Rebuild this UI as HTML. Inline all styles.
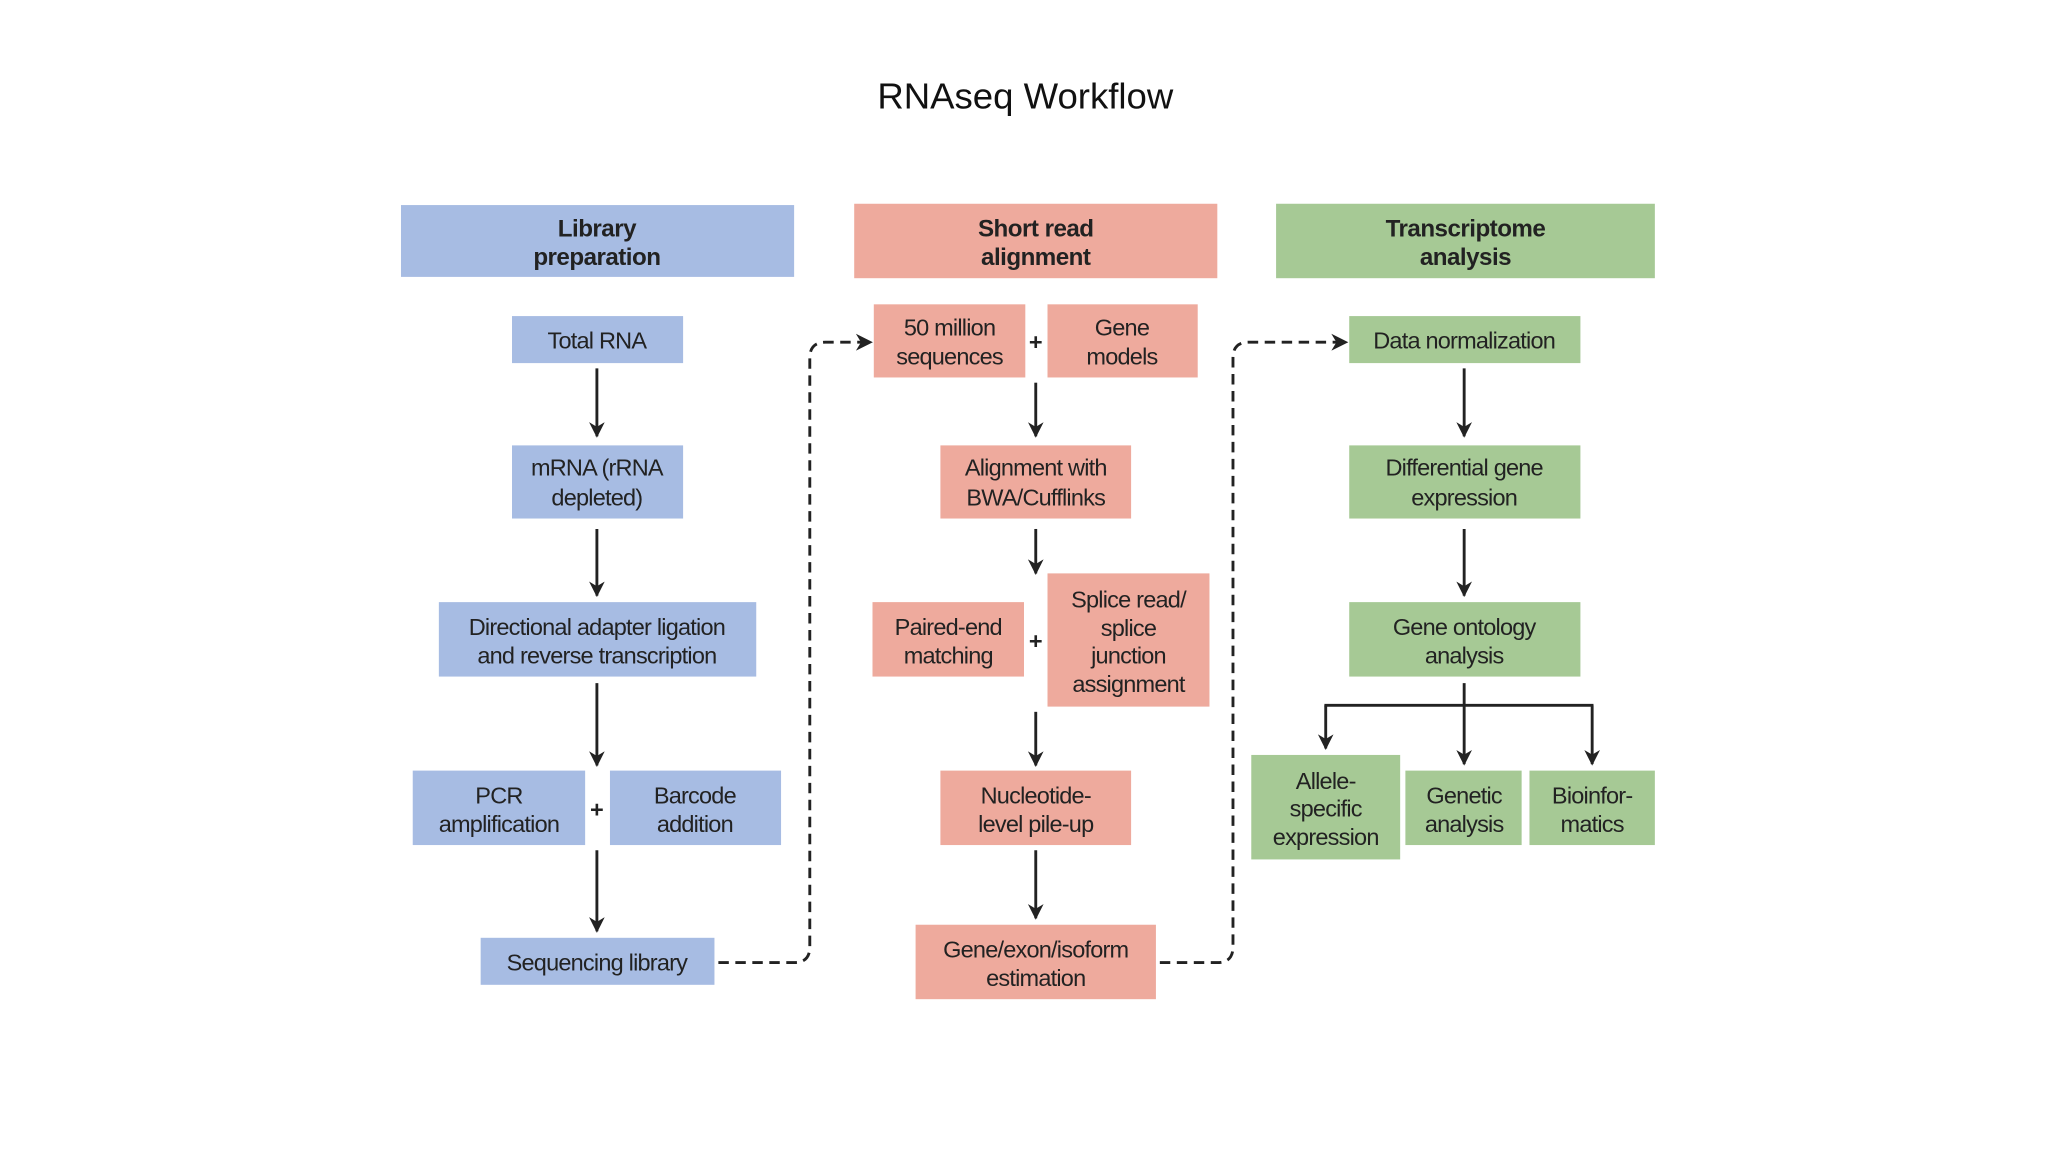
<!DOCTYPE html>
<html><head><meta charset="utf-8"><style>
html,body{margin:0;padding:0;background:#fff;}
svg{display:block;}
text{font-family:"Liberation Sans",sans-serif;fill:#222;}
.t{font-size:18px;letter-spacing:-0.6px;text-anchor:middle;}
.h{font-size:18.5px;font-weight:bold;letter-spacing:-0.4px;text-anchor:middle;}
</style></head><body>
<svg width="2048" height="1152" viewBox="0 0 1568 882" xmlns="http://www.w3.org/2000/svg">
<defs>
<marker id="a" viewBox="0 0 10 10" refX="9" refY="5" markerWidth="15" markerHeight="12" markerUnits="userSpaceOnUse" orient="auto">
<path d="M0,0 L10,5 L0,10 L3,5 z" fill="#222"/></marker>
<marker id="b" viewBox="0 0 10 10" refX="9" refY="5" markerWidth="20" markerHeight="13" markerUnits="userSpaceOnUse" orient="auto">
<path d="M0,0 L10,5 L0,10 L3,5 z" fill="#222"/></marker>
</defs>
<text x="785" y="83" style="font-size:28px;text-anchor:middle;fill:#111">RNAseq Workflow</text>

<rect x="307" y="157" width="301" height="55" fill="#a7bce3"/>
<text class="h" x="457" y="181">Library</text><text class="h" x="457" y="203">preparation</text>
<rect x="654" y="156" width="278" height="57" fill="#eeaa9d"/>
<text class="h" x="793" y="181">Short read</text><text class="h" x="793" y="203">alignment</text>
<rect x="977" y="156" width="290" height="57" fill="#a6c995"/>
<text class="h" x="1122" y="181">Transcriptome</text><text class="h" x="1122" y="203">analysis</text>

<g fill="#a7bce3">
<rect x="392" y="242" width="131" height="36"/>
<rect x="392" y="341" width="131" height="56"/>
<rect x="336" y="461" width="243" height="57"/>
<rect x="316" y="590" width="132" height="57"/>
<rect x="467" y="590" width="131" height="57"/>
<rect x="368" y="718" width="179" height="36"/>
</g>
<text class="t" x="457" y="267">Total RNA</text>
<text class="t" x="457" y="364">mRNA (rRNA</text><text class="t" x="457" y="387">depleted)</text>
<text class="t" x="457" y="486">Directional adapter ligation</text><text class="t" x="457" y="508">and reverse transcription</text>
<text class="t" x="382" y="615">PCR</text><text class="t" x="382" y="637">amplification</text>
<text class="t" x="532" y="615">Barcode</text><text class="t" x="532" y="637">addition</text>
<text class="t" x="457" y="743">Sequencing library</text>

<g fill="#eeaa9d">
<rect x="669" y="233" width="116" height="56"/>
<rect x="802" y="233" width="115" height="56"/>
<rect x="720" y="341" width="146" height="56"/>
<rect x="668" y="461" width="116" height="57"/>
<rect x="802" y="439" width="124" height="102"/>
<rect x="720" y="590" width="146" height="57"/>
<rect x="701" y="708" width="184" height="57"/>
</g>
<text class="t" x="727" y="257">50 million</text><text class="t" x="727" y="279">sequences</text>
<text class="t" x="859" y="257">Gene</text><text class="t" x="859" y="279">models</text>
<text class="t" x="793" y="364">Alignment with</text><text class="t" x="793" y="387">BWA/Cufflinks</text>
<text class="t" x="726" y="486">Paired-end</text><text class="t" x="726" y="508">matching</text>
<text class="t" x="864" y="465">Splice read/</text><text class="t" x="864" y="487">splice</text><text class="t" x="864" y="508">junction</text><text class="t" x="864" y="530">assignment</text>
<text class="t" x="793" y="615">Nucleotide-</text><text class="t" x="793" y="637">level pile-up</text>
<text class="t" x="793" y="733">Gene/exon/isoform</text><text class="t" x="793" y="755">estimation</text>

<g fill="#a6c995">
<rect x="1033" y="242" width="177" height="36"/>
<rect x="1033" y="341" width="177" height="56"/>
<rect x="1033" y="461" width="177" height="57"/>
<rect x="958" y="578" width="114" height="80"/>
<rect x="1076" y="590" width="89" height="57"/>
<rect x="1171" y="590" width="96" height="57"/>
</g>
<text class="t" x="1121" y="267">Data normalization</text>
<text class="t" x="1121" y="364">Differential gene</text><text class="t" x="1121" y="387">expression</text>
<text class="t" x="1121" y="486">Gene ontology</text><text class="t" x="1121" y="508">analysis</text>
<text class="t" x="1015" y="604">Allele-</text><text class="t" x="1015" y="625">specific</text><text class="t" x="1015" y="647">expression</text>
<text class="t" x="1121" y="615">Genetic</text><text class="t" x="1121" y="637">analysis</text>
<text class="t" x="1219" y="615">Bioinfor-</text><text class="t" x="1219" y="637">matics</text>

<g style="font-size:18px;font-weight:bold;text-anchor:middle">
<text x="793" y="268">+</text><text x="457" y="626">+</text><text x="793" y="497">+</text>
</g>

<g stroke="#222" stroke-width="2.2" fill="none" marker-end="url(#a)">
<line x1="457" y1="282" x2="457" y2="334"/>
<line x1="457" y1="405" x2="457" y2="456"/>
<line x1="457" y1="523" x2="457" y2="586"/>
<line x1="457" y1="651" x2="457" y2="713"/>
<line x1="793" y1="293" x2="793" y2="334"/>
<line x1="793" y1="405" x2="793" y2="439"/>
<line x1="793" y1="545" x2="793" y2="586"/>
<line x1="793" y1="651" x2="793" y2="703"/>
<line x1="1121" y1="282" x2="1121" y2="334"/>
<line x1="1121" y1="405" x2="1121" y2="456"/>
<line x1="1121" y1="523" x2="1121" y2="585"/>
<polyline points="1015,540 1015,573"/>
<polyline points="1219,540 1219,585"/>
</g>
<line x1="1014" y1="540" x2="1220" y2="540" stroke="#222" stroke-width="2.2"/>

<g stroke="#222" stroke-width="2.2" fill="none" stroke-dasharray="8,5" marker-end="url(#b)">
<path d="M550,737 L608,737 Q620,737 620,725 L620,274 Q620,262 632,262 L667,262"/>
<path d="M888,737 L932,737 Q944,737 944,725 L944,274 Q944,262 956,262 L1031,262"/>
</g>
</svg>
</body></html>
